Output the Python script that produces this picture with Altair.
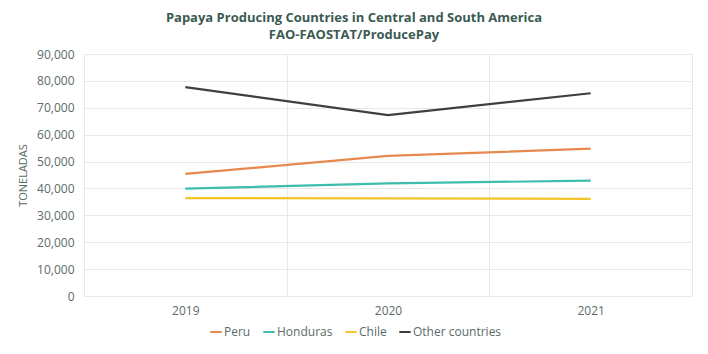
import altair as alt
import pandas as pd

years = ["2019", "2020", "2021"]
countries = ["Peru", "Honduras", "Chile", "Other countries"]
peru = [45400, 52100, 54800]
honduras = [39900, 41900, 42900]
chile = [36400, 36300, 36100]
other = [77700, 67300, 75400]
colors = ["#E8884F", "#3DBDAA", "#F3C52A", "#3F3F3F"]

rows = []
for name, vals in zip(countries, [peru, honduras, chile, other]):
    for y, v in zip(years, vals):
        rows.append({"year": y, "country": name, "value": v})
df = pd.DataFrame(rows)

text_color = "#5B6B68"

chart = alt.Chart(df).mark_line(strokeWidth=2.2).encode(
    x=alt.X("year:O", title=None, bandPosition=0.5,
            scale=alt.Scale(type="band", paddingInner=0, paddingOuter=0),
            axis=alt.Axis(labelAngle=0, grid=True, tickBand="extent", ticks=False,
                          domain=False, labelPadding=9, labelFontSize=12,
                          labelColor=text_color, gridColor="#E8E8E8")),
    y=alt.Y("value:Q", title="TONELADAS",
            scale=alt.Scale(domain=[0, 90000]),
            axis=alt.Axis(values=list(range(0, 90001, 10000)), format=",d",
                          ticks=False, domain=False, labelPadding=10,
                          labelFontSize=12, labelColor=text_color,
                          titleFontSize=11, titleFontWeight="normal",
                          titleColor=text_color, titlePadding=8,
                          gridColor="#E8E8E8")),
    color=alt.Color("country:N", sort=countries,
                    scale=alt.Scale(domain=countries, range=colors),
                    legend=alt.Legend(title=None, orient="none", direction="horizontal",
                                      legendX=125, legendY=271,
                                      symbolType="stroke", symbolSize=130,
                                      symbolStrokeWidth=2, labelFontSize=12,
                                      labelColor=text_color, labelOffset=1,
                                      columnPadding=8)),
).properties(
    width=608, height=242,
    autosize=alt.AutoSizeParams(type="none"),
    padding={"left": 84, "top": 54, "right": 16, "bottom": 58},
    title=alt.TitleParams(
        text=["Papaya Producing Countries in Central and South America",
              "FAO-FAOSTAT/ProducePay"],
        fontSize=13, fontWeight="bold", color="#3B5A52", anchor="middle",
        dx=-34, offset=6, lineHeight=17),
).configure(font="Open Sans").configure_view(stroke=None)

chart.save("out.html", embed_options={"renderer": "svg", "actions": False})
